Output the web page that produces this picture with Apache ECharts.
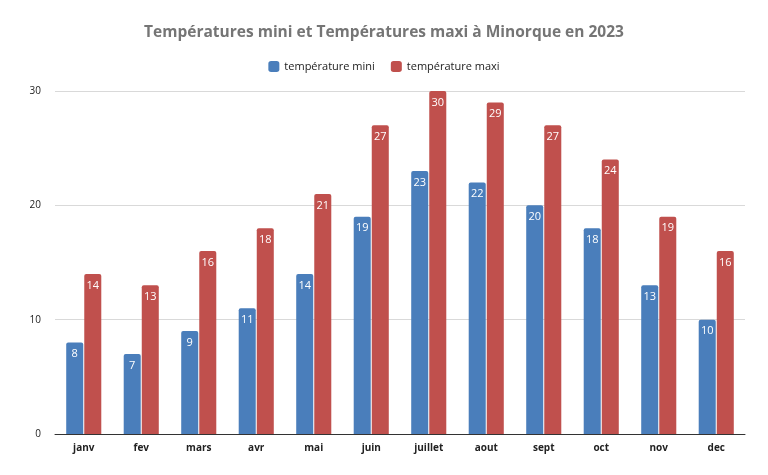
<!DOCTYPE html>
<html>
<head>
<meta charset="utf-8">
<script src="https://cdn.jsdelivr.net/npm/echarts@6/dist/echarts.min.js"></script>
<style>
  html, body { margin: 0; padding: 0; background: #fff; }
  #chart { width: 768px; height: 475px; }
</style>
</head>
<body>
<div id="chart"></div>
<script>
// données
const mois = ['janv', 'fev', 'mars', 'avr', 'mai', 'juin', 'juillet', 'aout', 'sept', 'oct', 'nov', 'dec'];
const tempMini = [8, 7, 9, 11, 14, 19, 23, 22, 20, 18, 13, 10];
const tempMaxi = [14, 13, 16, 18, 21, 27, 30, 29, 27, 24, 19, 16];

const chart = echarts.init(document.getElementById('chart'));

const labelStyle = {
  show: true,
  position: 'insideTop',
  color: '#fff',
  fontSize: 11,
  fontFamily: 'Open Sans',
  distance: 6
};

chart.setOption({
  textStyle: { fontFamily: 'Open Sans' },
  title: {
    text: 'Températures mini et Températures maxi à Minorque en 2023',
    left: 'center',
    top: 20,
    textStyle: { fontSize: 15.5, fontWeight: 'bold', color: '#757575' }
  },
  legend: {
    top: 56,
    left: 'center',
    itemWidth: 11,
    itemHeight: 11,
    itemGap: 16,
    textStyle: { fontSize: 11, color: '#222' },
    data: ['température mini', 'température maxi']
  },
  grid: { left: 55, right: 23, top: 91, bottom: 41 },
  xAxis: {
    type: 'category',
    data: mois,
    axisTick: { show: false },
    axisLine: { lineStyle: { color: '#333' } },
    axisLabel: { fontSize: 10, fontWeight: 'bold', color: '#222', margin: 9 }
  },
  yAxis: {
    type: 'value',
    min: 0,
    max: 30,
    interval: 10,
    axisLabel: { fontSize: 10, color: '#222', margin: 14 },
    splitLine: { lineStyle: { color: '#d9d9d9' } }
  },
  series: [
    {
      name: 'température mini',
      type: 'bar',
      data: tempMini,
      barGap: '6%',
      barCategoryGap: '39%',
      itemStyle: { color: '#4a7ebb', borderRadius: [2, 2, 0, 0] },
      label: labelStyle
    },
    {
      name: 'température maxi',
      type: 'bar',
      data: tempMaxi,
      itemStyle: { color: '#c0504d', borderRadius: [2, 2, 0, 0] },
      label: labelStyle
    }
  ]
});
</script>
</body>
</html>
